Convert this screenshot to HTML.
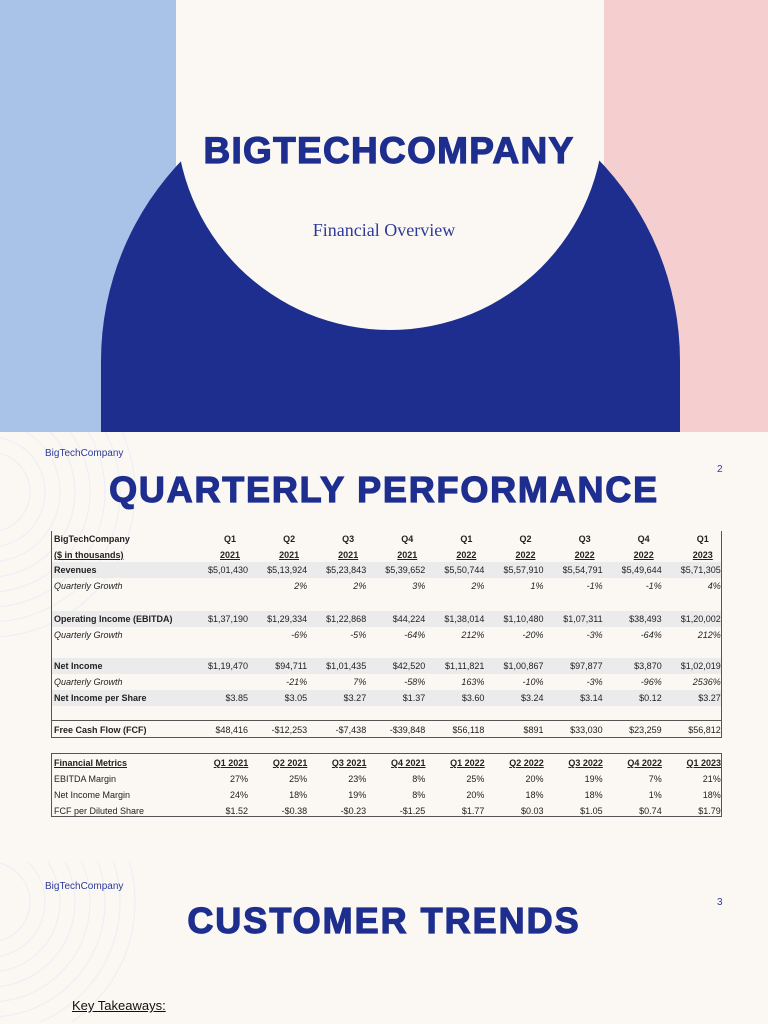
<!DOCTYPE html>
<html><head><meta charset="utf-8"><style>
*{margin:0;padding:0;box-sizing:border-box}
body{width:768px;height:1024px;overflow:hidden;background:#fbf8f3;font-family:"Liberation Sans",sans-serif;position:relative}
.abs{position:absolute}
.title{position:absolute;left:0;width:768px;text-align:center;color:#1e2e8e;font-weight:bold;font-size:36px;-webkit-text-stroke:1.2px #1e2e8e;white-space:nowrap}
.small{position:absolute;color:#2d3a9a;font-size:10px}
.c{position:absolute;font-size:9px;color:#222;white-space:nowrap;font-family:"Liberation Sans",sans-serif;line-height:16px;height:16px}
</style></head><body>
<svg class="abs" style="left:0;top:0" width="768" height="432">
<rect x="0" y="0" width="176" height="432" fill="#a9c3e8"/>
<rect x="604" y="0" width="164" height="432" fill="#f5cfd0"/>
<path d="M101,432 L101,361 A289.5,289.5 0 0 1 680,361 L680,432 Z" fill="#1e2e8e"/>
<path d="M176,0 L604,0 L604,116 A214,214 0 0 1 176,116 Z" fill="#fbf8f3"/>
</svg>
<div class="title" style="top:130px;font-size:37px;letter-spacing:1.3px;padding-left:10px">BIGTECHCOMPANY</div>
<div class="abs" style="top:220px;left:0;width:768px;text-align:center;font-family:'Liberation Serif',serif;font-size:18px;color:#2d3a9a;padding-left:0">Financial Overview</div>

<svg class="abs" style="left:0;top:432px" width="150" height="400">
<g fill="none" stroke="#eceff6" stroke-width="1.2">
<circle cx="-10" cy="60" r="40"/><circle cx="-10" cy="60" r="55"/><circle cx="-10" cy="60" r="70"/><circle cx="-10" cy="60" r="85"/><circle cx="-10" cy="60" r="100"/><circle cx="-10" cy="60" r="115"/><circle cx="-10" cy="60" r="130"/><circle cx="-10" cy="60" r="145"/>
</g></svg>
<svg class="abs" style="left:0;top:862px" width="150" height="160">
<g fill="none" stroke="#eceff6" stroke-width="1.2">
<circle cx="-10" cy="40" r="40"/><circle cx="-10" cy="40" r="55"/><circle cx="-10" cy="40" r="70"/><circle cx="-10" cy="40" r="85"/><circle cx="-10" cy="40" r="100"/><circle cx="-10" cy="40" r="115"/><circle cx="-10" cy="40" r="130"/><circle cx="-10" cy="40" r="145"/>
</g></svg>

<div class="small" style="left:45px;top:448px">BigTechCompany</div>
<div class="small" style="left:717px;top:464px">2</div>
<div class="title" style="top:469px;letter-spacing:1.8px;padding-left:0">QUARTERLY PERFORMANCE</div>

<div id="t1" class="abs" style="left:51px;top:531px;width:671px;height:207px;border:1.5px solid #555;border-top:none"></div>
<div id="t2" class="abs" style="left:51px;top:753px;width:671px;height:64px;border:1.5px solid #555"></div>

<div class="small" style="left:45px;top:881px">BigTechCompany</div>
<div class="small" style="left:717px;top:897px">3</div>
<div class="title" style="top:900px;letter-spacing:2px">CUSTOMER TRENDS</div>
<div class="abs" style="left:72px;top:998px;font-size:13px;text-decoration:underline;color:#111">Key Takeaways:</div>

<script>
const quarters=["Q1","Q2","Q3","Q4","Q1","Q2","Q3","Q4","Q1"];
const years=["2021","2021","2021","2021","2022","2022","2022","2022","2023"];
const revenues=["$5,01,430","$5,13,924","$5,23,843","$5,39,652","$5,50,744","$5,57,910","$5,54,791","$5,49,644","$5,71,305"];
const revGrowth=["","2%","2%","3%","2%","1%","-1%","-1%","4%"];
const ebitda=["$1,37,190","$1,29,334","$1,22,868","$44,224","$1,38,014","$1,10,480","$1,07,311","$38,493","$1,20,002"];
const ebitdaGrowth=["","-6%","-5%","-64%","212%","-20%","-3%","-64%","212%"];
const netIncome=["$1,19,470","$94,711","$1,01,435","$42,520","$1,11,821","$1,00,867","$97,877","$3,870","$1,02,019"];
const niGrowth=["","-21%","7%","-58%","163%","-10%","-3%","-96%","2536%"];
const niPerShare=["$3.85","$3.05","$3.27","$1.37","$3.60","$3.24","$3.14","$0.12","$3.27"];
const fcf=["$48,416","-$12,253","-$7,438","-$39,848","$56,118","$891","$33,030","$23,259","$56,812"];
const metricCols=["Q1 2021","Q2 2021","Q3 2021","Q4 2021","Q1 2022","Q2 2022","Q3 2022","Q4 2022","Q1 2023"];
const ebitdaMargin=["27%","25%","23%","8%","25%","20%","19%","7%","21%"];
const niMargin=["24%","18%","19%","8%","20%","18%","18%","1%","18%"];
const fcfPerShare=["$1.52","-$0.38","-$0.23","-$1.25","$1.77","$0.03","$1.05","$0.74","$1.79"];

function colRight(i){return 198+i*59.1;}
function cell(parent,txt,x,y,opts){
  const d=document.createElement('div');
  d.className='c';
  
  
  d.textContent=txt;
  d.style.top=y+'px';
  if(opts.right){d.style.right=(671-x)+'px';d.style.textAlign='right';}
  else if(opts.center){d.style.left=(x-30)+'px';d.style.width='60px';d.style.textAlign='center';}
  else d.style.left=x+'px';
  if(opts.bold)d.style.fontWeight='bold';
  if(opts.italic)d.style.fontStyle='italic';
  if(opts.u)d.style.textDecoration='underline';
  parent.appendChild(d);
}
function band(parent,y,name){
  const b=document.createElement('div');
  
  
  b.style.cssText='position:absolute;left:0;right:0;top:'+y+'px;height:16px;background:#ebebeb';
  parent.appendChild(b);
}
const t1=document.getElementById('t1');
band(t1,31,'revenues-band');band(t1,80,'ebitda-band');band(t1,127,'net-income-band');band(t1,159,'eps-band');
const line=document.createElement('div');


line.style.cssText='position:absolute;left:0;right:0;top:189px;border-top:1.5px solid #555';
t1.appendChild(line);
const rows=[
 {label:"BigTechCompany",y:0,bold:true,vals:quarters,center:true,vb:true},
 {label:"($ in thousands)",y:16,bold:true,u:true,vals:years,center:true,vb:true,vu:true},
 {label:"Revenues",y:31,bold:true,vals:revenues},
 {label:"Quarterly Growth",y:47,italic:true,vals:revGrowth,vi:true},
 {label:"Operating Income (EBITDA)",y:80,bold:true,vals:ebitda},
 {label:"Quarterly Growth",y:96,italic:true,vals:ebitdaGrowth,vi:true},
 {label:"Net Income",y:127,bold:true,vals:netIncome},
 {label:"Quarterly Growth",y:143,italic:true,vals:niGrowth,vi:true},
 {label:"Net Income per Share",y:159,bold:true,vals:niPerShare},
 {label:"Free Cash Flow (FCF)",y:191,bold:true,vals:fcf}
];
rows.forEach(r=>{
  cell(t1,r.label,2,r.y,{bold:r.bold,italic:r.italic,u:r.u});
  r.vals.forEach((v,i)=>{
    if(r.center)cell(t1,v,colRight(i)-20,r.y,{center:true,bold:r.vb,u:r.vu});
    else cell(t1,v,colRight(i),r.y,{right:true,italic:r.vi});
  });
});
const t2=document.getElementById('t2');
const rows2=[
 {label:"Financial Metrics",y:1,vals:metricCols,hdr:true},
 {label:"EBITDA Margin",y:17,vals:ebitdaMargin},
 {label:"Net Income Margin",y:33,vals:niMargin},
 {label:"FCF per Diluted Share",y:49,vals:fcfPerShare}
];
rows2.forEach(r=>{
  cell(t2,r.label,2,r.y,{bold:r.hdr,u:r.hdr});
  r.vals.forEach((v,i)=>{
    if(r.hdr)cell(t2,v,colRight(i)-19,r.y,{center:true,bold:true,u:true});
    else cell(t2,v,colRight(i),r.y,{right:true});
  });
});
</script>
</body></html>
